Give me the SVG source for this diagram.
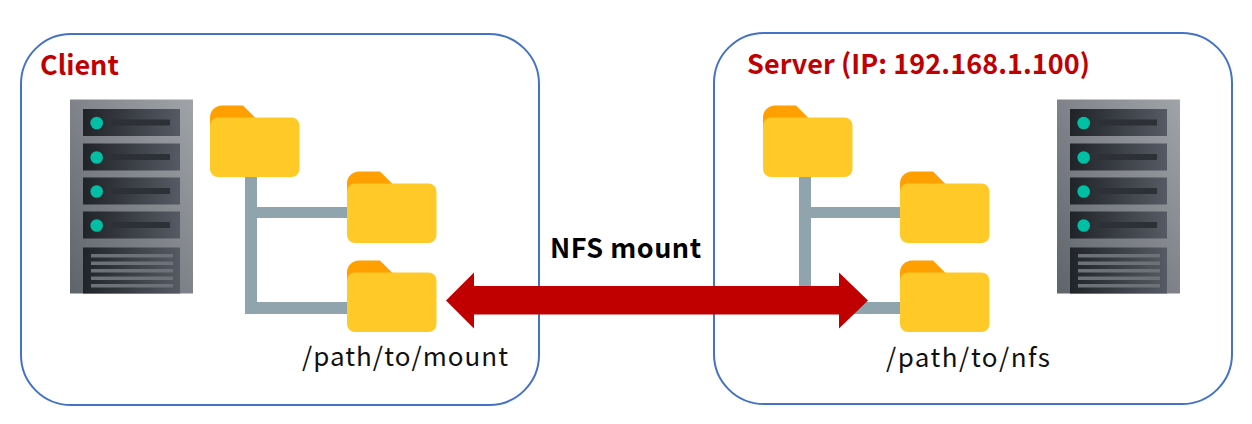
<svg xmlns="http://www.w3.org/2000/svg" xmlns:xlink="http://www.w3.org/1999/xlink" width="1252" height="424" viewBox="0 0 1252 424">
<style>
.box{fill:#fff;stroke:#4472c4;stroke-width:2}
.title{font-family:"Noto Sans CJK JP","Noto Sans",sans-serif;font-weight:700;font-size:27px;fill:#c00000}
.path{font-family:"Noto Sans CJK JP","Noto Sans",sans-serif;font-weight:400;font-size:26px;fill:#111}
.lbl{font-family:"Noto Sans CJK JP","Noto Sans",sans-serif;font-weight:700;font-size:27px;letter-spacing:.5px;fill:#000}
.tree{fill:#90a4ae}
</style>
<defs>
<linearGradient id="body" x1="0" y1="1" x2="1" y2="0"><stop offset="0" stop-color="#5f646b"/><stop offset="1" stop-color="#a0a3a8"/></linearGradient>
<linearGradient id="slot" x1="0" y1="0" x2="1" y2="0"><stop offset="0" stop-color="#202327"/><stop offset="1" stop-color="#565a64"/></linearGradient>
<g id="folder">
<path d="M0 12a12 12 0 0 1 12-12h21l13 13v10h-46z" fill="#ffa000"/>
<rect x="0" y="12" width="89.500" height="59.500" rx="8" fill="#ffca28"/>
</g>
<g id="slotrow">
<rect x="13" y="0" width="97" height="27" fill="url(#slot)"/>
<circle cx="26.700" cy="14" r="6.300" fill="#00bfa5"/>
<rect x="41" y="10.500" width="59" height="6" fill="#2d3036"/>
</g>
<g id="server">
<rect width="123" height="194" fill="url(#body)"/>
<use xlink:href="#slotrow" y="9.500"/>
<use xlink:href="#slotrow" y="44"/>
<use xlink:href="#slotrow" y="78"/>
<use xlink:href="#slotrow" y="112"/>
<rect x="13" y="148" width="97" height="46" fill="url(#slot)"/>
<g fill="#6d7279">
<rect x="21" y="154.500" width="82" height="3.500"/>
<rect x="21" y="162" width="82" height="3.500"/>
<rect x="21" y="169.500" width="82" height="3.500"/>
<rect x="21" y="177" width="82" height="3.500"/>
<rect x="21" y="184.500" width="82" height="3.500"/>
</g>
</g>
</defs>
<rect width="1252" height="424" fill="#fff"/>
<g id="client">
<rect class="box" x="21" y="34" width="518" height="371" rx="50"/>
<text class="title" x="40" y="75">Client</text>
<use xlink:href="#server" x="70" y="99.500"/>
<g class="tree"><rect x="245" y="170" width="12" height="144"/><rect x="245" y="207" width="110" height="11"/><rect x="245" y="302" width="110" height="12"/></g>
<use xlink:href="#folder" x="210" y="105.500"/>
<use xlink:href="#folder" x="347" y="171.500"/>
<use xlink:href="#folder" x="347" y="260.500"/>
<text class="path" x="302" y="366" textLength="206" lengthAdjust="spacing">/path/to/mount</text>
</g>
<g id="server-node">
<rect class="box" x="714" y="33" width="518" height="371" rx="50"/>
<text class="title" x="747" y="74" textLength="343" lengthAdjust="spacing">Server (IP: 192.168.1.100)</text>
<use xlink:href="#server" x="1057" y="99.500"/>
<g class="tree"><rect x="799" y="170" width="12" height="144"/><rect x="799" y="207" width="110" height="11"/><rect x="799" y="302" width="110" height="12"/></g>
<use xlink:href="#folder" x="763" y="105.500"/>
<use xlink:href="#folder" x="900" y="171.500"/>
<use xlink:href="#folder" x="900" y="260.500"/>
<text class="path" x="886" y="367" textLength="164" lengthAdjust="spacing">/path/to/nfs</text>
</g>
<g id="connectors">
<polygon points="446,300.500 474,272.500 474,286 839,286 839,272.500 868,300.500 839,328.500 839,314.500 474,314.500 474,328.500" fill="#c00000"/>
</g>
<text class="lbl" x="550" y="258">NFS mount</text>
</svg>
